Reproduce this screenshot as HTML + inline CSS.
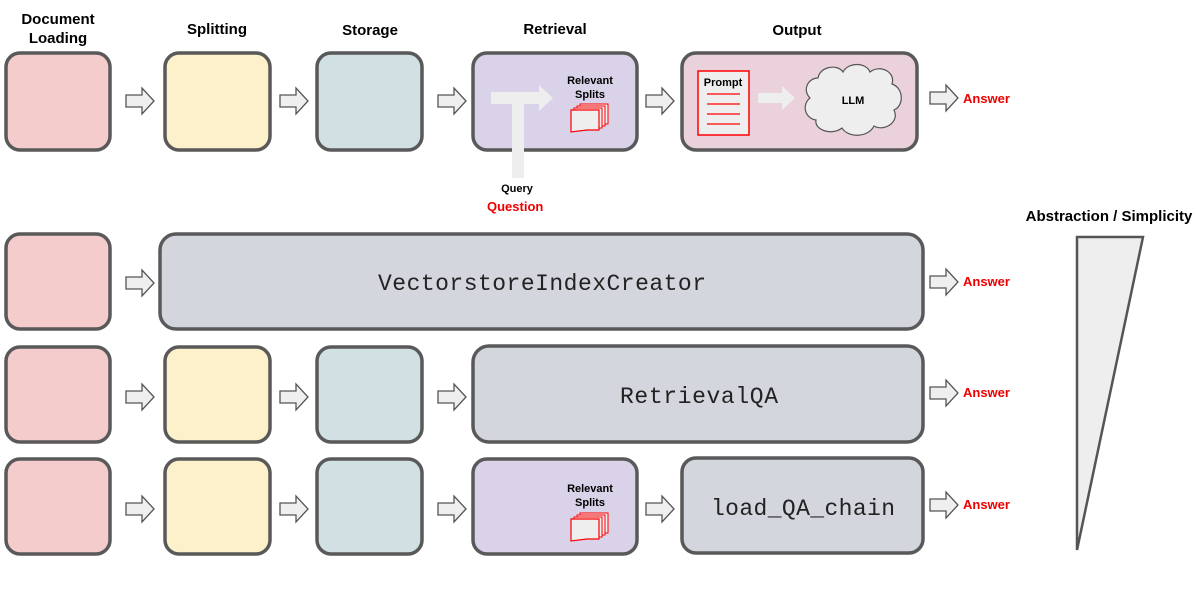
<!DOCTYPE html>
<html><head><meta charset="utf-8"><style>
html,body{margin:0;padding:0;background:#fff;width:1200px;height:596px;overflow:hidden}
svg{display:block}
.h{font-family:"Liberation Sans",sans-serif;font-weight:bold;font-size:15px;fill:#000;text-anchor:middle}
.s{font-family:"Liberation Sans",sans-serif;font-weight:bold;font-size:11px;fill:#000;text-anchor:middle}
.a{font-family:"Liberation Sans",sans-serif;font-weight:bold;font-size:13px;fill:#e00}
.m{font-family:"Liberation Mono",monospace;font-size:23px;fill:#222;text-anchor:middle}
.b{stroke:#595959;stroke-width:3.5}
</style></head><body>
<svg width="1200" height="596" viewBox="0 0 1200 596">
<defs>
<g id="ar"><path d="M0,-6 H16 V-13 L28,0 L16,13 V6 H0 Z" fill="#efefef" stroke="#555" stroke-width="1.3"/></g>
<g id="st">
<rect x="8" y="0" width="28" height="20" fill="#eee" stroke="#f00" stroke-width="1"/>
<rect x="5" y="2" width="28" height="20" fill="#eee" stroke="#f00" stroke-width="1"/>
<rect x="2" y="4" width="28" height="20" fill="#eee" stroke="#f00" stroke-width="1"/>
<path d="M-1,6 H27 V26 L15,26 L-1,28 Z" fill="#eee" stroke="#f00" stroke-width="1.2"/>
</g>
</defs>
<!-- headers -->
<text class="h" x="58" y="24">Document</text>
<text class="h" x="58" y="43">Loading</text>
<text class="h" x="217" y="34">Splitting</text>
<text class="h" x="370" y="35">Storage</text>
<text class="h" x="555" y="34">Retrieval</text>
<text class="h" x="797" y="35">Output</text>
<text class="h" x="1109" y="221">Abstraction / Simplicity</text>

<!-- Row 1 -->
<rect class="b" x="6" y="53" width="104" height="97" rx="14" fill="#f4cccc"/>
<rect class="b" x="165" y="53" width="105" height="97" rx="14" fill="#fdf1cc"/>
<rect class="b" x="317" y="53" width="105" height="97" rx="14" fill="#d0e0e3"/>
<rect class="b" x="473" y="53" width="164" height="97" rx="14" fill="#d9d2e9"/>
<rect class="b" x="682" y="53" width="235" height="97" rx="14" fill="#ead1dc"/>
<use href="#ar" x="126" y="101"/><use href="#ar" x="280" y="101"/><use href="#ar" x="438" y="101"/><use href="#ar" x="646" y="101"/><use href="#ar" x="930" y="98"/>
<text class="a" x="963" y="103">Answer</text>
<!-- retrieval T -->
<rect x="512" y="98" width="12" height="80" fill="#eee"/>
<path d="M491,92 H539 V85 L553,98 L539,111 V104 H491 Z" fill="#eee"/>
<text class="s" x="590" y="84">Relevant</text>
<text class="s" x="590" y="98">Splits</text>
<use href="#st" x="572" y="104"/>
<text class="s" x="517" y="192">Query</text>
<text class="a" x="487" y="211">Question</text>
<!-- prompt -->
<rect x="698" y="71" width="51" height="64" fill="#eee" stroke="#f00" stroke-width="1.5"/>
<text class="s" x="723" y="86">Prompt</text>
<g stroke="#f00" stroke-width="1.2"><line x1="707" y1="94" x2="740" y2="94"/><line x1="707" y1="104" x2="740" y2="104"/><line x1="707" y1="114" x2="740" y2="114"/><line x1="707" y1="124" x2="740" y2="124"/></g>
<path d="M758,93 H782 V86 L795,98 L782,110 V103 H758 Z" fill="#eee"/>
<path d="M818,78 C820,66 838,64 843,72 C848,62 866,62 870,72 C880,64 896,72 892,84 C904,88 904,106 894,110 C900,122 884,132 874,126 C868,138 848,138 842,128 C832,136 814,130 816,120 C804,118 802,104 810,98 C802,90 808,78 818,78 Z" fill="#eee" stroke="#555" stroke-width="1.2"/>
<text class="s" x="853" y="104">LLM</text>

<!-- Row 2 -->
<rect class="b" x="6" y="234" width="104" height="95" rx="14" fill="#f4cccc"/>
<use href="#ar" x="126" y="283"/>
<rect class="b" x="160" y="234" width="763" height="95" rx="16" fill="#d3d6dd"/>
<text class="m" x="542" y="290" textLength="328">VectorstoreIndexCreator</text>
<use href="#ar" x="930" y="282"/>
<text class="a" x="963" y="286">Answer</text>

<!-- Row 3 -->
<rect class="b" x="6" y="347" width="104" height="95" rx="14" fill="#f4cccc"/>
<rect class="b" x="165" y="347" width="105" height="95" rx="14" fill="#fdf1cc"/>
<rect class="b" x="317" y="347" width="105" height="95" rx="14" fill="#d0e0e3"/>
<rect class="b" x="473" y="346" width="450" height="96" rx="16" fill="#d3d6dd"/>
<use href="#ar" x="126" y="397"/><use href="#ar" x="280" y="397"/><use href="#ar" x="438" y="397"/><use href="#ar" x="930" y="393"/>
<text class="m" x="699" y="403" textLength="158">RetrievalQA</text>
<text class="a" x="963" y="397">Answer</text>

<!-- Row 4 -->
<rect class="b" x="6" y="459" width="104" height="95" rx="14" fill="#f4cccc"/>
<rect class="b" x="165" y="459" width="105" height="95" rx="14" fill="#fdf1cc"/>
<rect class="b" x="317" y="459" width="105" height="95" rx="14" fill="#d0e0e3"/>
<rect class="b" x="473" y="459" width="164" height="95" rx="14" fill="#d9d2e9"/>
<rect class="b" x="682" y="458" width="241" height="95" rx="14" fill="#d3d6dd"/>
<use href="#ar" x="126" y="509"/><use href="#ar" x="280" y="509"/><use href="#ar" x="438" y="509"/><use href="#ar" x="646" y="509"/><use href="#ar" x="930" y="505"/>
<text class="s" x="590" y="492">Relevant</text>
<text class="s" x="590" y="506">Splits</text>
<use href="#st" x="572" y="513"/>
<text class="m" x="803" y="515" textLength="184">load_QA_chain</text>
<text class="a" x="963" y="509">Answer</text>

<!-- triangle -->
<path d="M1077,237 H1143 L1077,550 Z" fill="#eee" stroke="#555" stroke-width="2.5" stroke-linejoin="miter"/>
</svg>
</body></html>
